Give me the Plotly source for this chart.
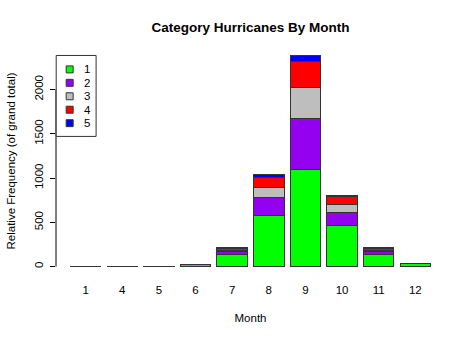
import plotly.graph_objects as go

months = ["1", "4", "5", "6", "7", "8", "9", "10", "11", "12"]
categories = ["1", "2", "3", "4", "5"]
cat1 = [2, 2, 2, 20, 135, 582, 1100, 465, 138, 30]
cat2 = [1, 0, 0, 4, 35, 202, 573, 151, 32, 5]
cat3 = [1, 0, 0, 1, 15, 108, 345, 85, 14, 1]
cat4 = [1, 0, 0, 1, 20, 109, 293, 94, 20, 0]
cat5 = [0, 0, 0, 0, 5, 38, 75, 11, 6, 0]
series = [cat1, cat2, cat3, cat4, cat5]
colors = ["#00FF00", "#9400F0", "#BEBEBE", "#FF0000", "#0000FF"]
yticks = [0, 500, 1000, 1500, 2000]

FONT = "Liberation Sans, Arial, Helvetica, sans-serif"
FS = 11.5
W, H = 474, 338
L, R, T, B = 55.5, 28.5, 46.5, 62.5
PW, PH = W - L - R, H - T - B


def px_x(px):
    return (px - L) / PW


def px_y(py):
    return (H - B - py) / PH


fig = go.Figure()
for name, vals, col in zip(categories, series, colors):
    fig.add_trace(go.Bar(
        x=months, y=vals, name=name, showlegend=False,
        marker=dict(color=col, line=dict(color="#333333", width=1)),
    ))

fig.update_layout(
    width=W, height=H,
    barmode="stack", bargap=1 - 1 / 1.2,
    plot_bgcolor="white", paper_bgcolor="white",
    margin=dict(l=L, r=R, t=T, b=B, autoexpand=False),
    font=dict(family=FONT, size=FS, color="black"),
    title=dict(text="<b>Category Hurricanes By Month</b>", x=250.5 / W, xanchor="center",
               y=1 - 27.7 / H, yanchor="middle", font=dict(size=13.5)),
    showlegend=False,
)
fig.update_xaxes(
    type="category", range=[-0.81, 9.81], showline=False, ticks="", automargin=False,
    showgrid=False, zeroline=False, ticklabelstandoff=6,
    title=dict(text="Month", standoff=19, font=dict(size=FS)), tickfont=dict(size=FS),
)
fig.update_yaxes(
    range=[-95.4, 2480], tickvals=yticks, ticktext=[str(v) for v in yticks], automargin=False,
    tickangle=-90, ticks="outside", ticklen=5, tickcolor="black", ticklabelstandoff=2,
    showgrid=False, zeroline=False, showline=False,
    title=dict(text="Relative Frequency (of grand total)", standoff=15, font=dict(size=FS)),
    tickfont=dict(size=FS),
)
fig.add_shape(type="line", xref="paper", yref="y", x0=0, x1=0, y0=yticks[0], y1=yticks[-1],
              line=dict(color="black", width=1))

# legend box (R-style, drawn manually)
fig.add_shape(type="rect", xref="paper", yref="paper",
              x0=px_x(55.7), x1=px_x(95.7), y0=px_y(136.3), y1=px_y(55),
              line=dict(color="#333333", width=1), fillcolor="white", layer="above")
row0, step = 69.0, 13.5
for i, (name, col) in enumerate(zip(categories, colors)):
    cy = row0 + i * step
    fig.add_shape(type="rect", xref="paper", yref="paper",
                  x0=px_x(65.7), x1=px_x(72.7), y0=px_y(cy + 3.5), y1=px_y(cy - 3.5),
                  line=dict(color="#333333", width=1), fillcolor=col, layer="above")
    fig.add_annotation(xref="paper", yref="paper", x=px_x(87), y=px_y(cy),
                       text=name, showarrow=False, xanchor="center", yanchor="middle",
                       font=dict(size=FS))

fig.write_html("out.html")
